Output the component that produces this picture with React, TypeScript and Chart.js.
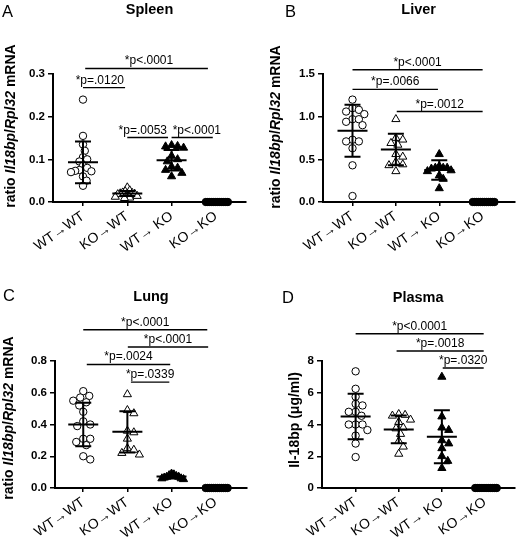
import React, { useEffect, useRef } from 'react';
import { Chart, registerables } from 'chart.js';

Chart.register(...registerables);

const FONT = '"Liberation Sans", Arial, Helvetica, sans-serif';

const CATEGORIES = ['WT\u2192WT', 'KO\u2192WT', 'WT\u2192 KO', 'KO\u2192KO'];

// ---------- Spleen ----------
const spleenWTWT = [0.24, 0.155, 0.135, 0.12, 0.105, 0.1, 0.095, 0.085, 0.08, 0.075, 0.073, 0.072, 0.07, 0.06, 0.05, 0.038];
const spleenKOWT = [0.034, 0.027, 0.025, 0.022, 0.021, 0.02, 0.019, 0.018, 0.016, 0.014, 0.012, 0.01, 0.009];
const spleenWTKO = [0.133, 0.131, 0.13, 0.127, 0.108, 0.1, 0.095, 0.083, 0.08, 0.075, 0.068, 0.06];
const spleenKOKO = [0, 0, 0, 0, 0, 0, 0, 0, 0, 0, 0, 0];
const spleenMean = [0.093, 0.02, 0.098, 0];
const spleenSD = [0.049, 0.006, 0.024, 0];
const spleenTicks = [0, 0.1, 0.2, 0.3];
const spleenTickLabels = ['0.0', '0.1', '0.2', '0.3'];
const spleenPLabels = ['*p<.0001', '*p=.0120', '*p=.0053', '*p<.0001'];
const spleenPLevel = [0.313, 0.268, 0.151, 0.151];
const spleenPFrom = [0.05, 0, 1, 2];
const spleenPTo = [2.82, 0.95, 1.92, 2.93];
const spleenPTextX = [1.49, 0.38, 1.35, 2.57];

// ---------- Liver ----------
const liverWTWT = [1.2, 1.1, 1.08, 1.06, 1.03, 0.97, 0.97, 0.94, 0.9, 0.73, 0.71, 0.71, 0.63, 0.43, 0.07];
const liverKOWT = [0.97, 0.75, 0.73, 0.69, 0.67, 0.56, 0.53, 0.47, 0.44, 0.43, 0.36];
const liverWTKO = [0.56, 0.42, 0.4, 0.4, 0.4, 0.39, 0.37, 0.36, 0.31, 0.27, 0.16];
const liverKOKO = [0, 0, 0, 0, 0, 0, 0, 0, 0, 0, 0, 0];
const liverMean = [0.835, 0.615, 0.375, 0];
const liverSD = [0.305, 0.185, 0.115, 0];
const liverTicks = [0, 0.5, 1, 1.5];
const liverTickLabels = ['0.0', '0.5', '1.0', '1.5'];
const liverPLabels = ['*p<.0001', '*p=.0066', '*p=.0012'];
const liverPLevel = [1.55, 1.32, 1.06];
const liverPFrom = [0, 0, 1.02];
const liverPTo = [3, 1.97, 3];

// ---------- Lung ----------
const lungWTWT = [0.61, 0.58, 0.57, 0.55, 0.54, 0.52, 0.48, 0.42, 0.4, 0.39, 0.31, 0.31, 0.29, 0.27, 0.2, 0.18];
const lungKOWT = [0.59, 0.49, 0.47, 0.36, 0.35, 0.31, 0.25, 0.24, 0.22, 0.21];
const lungWTKO = [0.09, 0.085, 0.08, 0.075, 0.07, 0.07, 0.065, 0.06, 0.06, 0.055];
const lungKOKO = [0, 0, 0, 0, 0, 0, 0, 0, 0, 0, 0, 0];
const lungMean = [0.4, 0.354, 0.072, 0];
const lungSD = [0.137, 0.13, 0.012, 0];
const lungTicks = [0, 0.2, 0.4, 0.6, 0.8];
const lungTickLabels = ['0.0', '0.2', '0.4', '0.6', '0.8'];
const lungPLabels = ['*p<.0001', '*p<.0001', '*p=.0024', '*p=.0339'];
const lungPLevel = [0.997, 0.888, 0.778, 0.667];
const lungPFrom = [0, 1.01, 0.08, 1.08];
const lungPTo = [2.81, 2.83, 1.97, 1.95];

// ---------- Plasma ----------
const plasmaWTWT = [7.35, 6.25, 5.75, 5.3, 5.2, 4.8, 4.8, 4.55, 4.0, 4.0, 4.0, 3.65, 3.3, 2.8, 1.95];
const plasmaKOWT = [4.65, 4.6, 4.55, 4.3, 4.15, 3.8, 3.75, 3.4, 2.95, 2.6, 2.15];
const plasmaWTKO = [7.0, 4.5, 3.8, 3.65, 3.0, 2.8, 2.5, 2.0, 1.7, 1.25];
const plasmaKOKO = [0, 0, 0, 0, 0, 0, 0, 0, 0, 0, 0, 0];
const plasmaMean = [4.5, 3.69, 3.23, 0];
const plasmaSD = [1.43, 0.87, 1.67, 0];
const plasmaTicks = [0, 2, 4, 6, 8];
const plasmaTickLabels = ['0', '2', '4', '6', '8'];
const plasmaPLabels = ['*p<0.0001', '*p=.0018', '*p=.0320'];
const plasmaPLevel = [9.72, 8.63, 7.56];
const plasmaPFrom = [0, 0.95, 2.02];
const plasmaPTo = [2.97, 2.97, 2.97];

const MRNA_TITLE: [string, boolean][] = [
  ['ratio ', false],
  ['Il18bp', true],
  ['/', false],
  ['Rpl32', true],
  [' mRNA', false],
];
const PLASMA_TITLE: [string, boolean][] = [['Il-18bp (\u03bcg/ml)', false]];

// marker style per group: WT→WT open circle, KO→WT open triangle, WT→KO filled triangle, KO→KO filled circle
const MARKERS = [
  { style: 'circle', radius: 3.7, fill: '#ffffff' },
  { style: 'triangle', radius: 4.7, fill: '#ffffff' },
  { style: 'triangle', radius: 4.7, fill: '#000000' },
  { style: 'circle', radius: 3.7, fill: '#000000' },
];

type Panel = {
  letter: string;
  title: string;
  groups: number[][];
  mean: number[];
  sd: number[];
  ticks: number[];
  tickLabels: string[];
  yMax: number;
  pLabels: string[];
  pLevel: number[];
  pFrom: number[];
  pTo: number[];
  pTextX?: number[];
  yTitle: [string, boolean][];
  L: {
    left: number; top: number; h: number;
    axisLeft: number; axisRight: number; axisTop: number; axisBottom: number;
    xMin: number; xMax: number;
    letterX: number; letterY: number; titleY: number; yTitleX: number; yTitleY: number;
  };
};

const PANELS: Panel[] = [
  {
    letter: 'A', title: 'Spleen',
    groups: [spleenWTWT, spleenKOWT, spleenWTKO, spleenKOKO],
    mean: spleenMean, sd: spleenSD, ticks: spleenTicks, tickLabels: spleenTickLabels, yMax: 0.3,
    pLabels: spleenPLabels, pLevel: spleenPLevel, pFrom: spleenPFrom, pTo: spleenPTo, pTextX: spleenPTextX,
    yTitle: MRNA_TITLE,
    L: { left: 0, top: 0, h: 270, axisLeft: 53, axisRight: 246, axisTop: 74, axisBottom: 202, xMin: -0.677, xMax: 3.68,
      letterX: 2, letterY: 16.7, titleY: 13.5, yTitleX: 11, yTitleY: 126 },
  },
  {
    letter: 'B', title: 'Liver',
    groups: [liverWTWT, liverKOWT, liverWTKO, liverKOKO],
    mean: liverMean, sd: liverSD, ticks: liverTicks, tickLabels: liverTickLabels, yMax: 1.5,
    pLabels: liverPLabels, pLevel: liverPLevel, pFrom: liverPFrom, pTo: liverPTo,
    yTitle: MRNA_TITLE,
    L: { left: 260, top: 0, h: 270, axisLeft: 63, axisRight: 257, axisTop: 74, axisBottom: 202, xMin: -0.68, xMax: 3.73,
      letterX: 25, letterY: 16.7, titleY: 13.5, yTitleX: 16, yTitleY: 127 },
  },
  {
    letter: 'C', title: 'Lung',
    groups: [lungWTWT, lungKOWT, lungWTKO, lungKOKO],
    mean: lungMean, sd: lungSD, ticks: lungTicks, tickLabels: lungTickLabels, yMax: 0.8,
    pLabels: lungPLabels, pLevel: lungPLevel, pFrom: lungPFrom, pTo: lungPTo,
    yTitle: MRNA_TITLE,
    L: { left: 0, top: 270, h: 271, axisLeft: 55, axisRight: 247, axisTop: 91, axisBottom: 218, xMin: -0.64, xMax: 3.71,
      letterX: 3, letterY: 30.5, titleY: 30.5, yTitleX: 9, yTitleY: 148 },
  },
  {
    letter: 'D', title: 'Plasma',
    groups: [plasmaWTWT, plasmaKOWT, plasmaWTKO, plasmaKOKO],
    mean: plasmaMean, sd: plasmaSD, ticks: plasmaTicks, tickLabels: plasmaTickLabels, yMax: 8,
    pLabels: plasmaPLabels, pLevel: plasmaPLevel, pFrom: plasmaPFrom, pTo: plasmaPTo,
    yTitle: PLASMA_TITLE,
    L: { left: 260, top: 270, h: 271, axisLeft: 62, axisRight: 258, axisTop: 91, axisBottom: 218, xMin: -0.78, xMax: 3.68,
      letterX: 22, letterY: 33.3, titleY: 31.7, yTitleX: 35, yTitleY: 150 },
  },
];

// Beeswarm-style horizontal spread (in pixels) computed from the values
function swarmOffsets(values: number[], pxPerY: number, diameter: number, maxHalf: number): number[] {
  const order = values.map((_, i) => i).sort((a, b) => values[b] - values[a]);
  const placed: { x: number; y: number }[] = [];
  const off = new Array(values.length).fill(0);
  for (const i of order) {
    const y = values[i] * pxPerY;
    let chosen = 0;
    for (let k = 0; k < 400; k++) {
      const cand = k === 0 ? 0 : (k % 2 ? 1 : -1) * Math.ceil(k / 2);
      if (placed.every((p) => Math.hypot(p.x - cand, p.y - y) >= diameter)) {
        chosen = cand;
        break;
      }
    }
    placed.push({ x: chosen, y });
    off[i] = chosen;
  }
  const m = Math.max(...off.map((o) => Math.abs(o)), 0);
  const s = m > maxHalf ? maxHalf / m : 1;
  return off.map((o) => o * s);
}

function makeConfig(p: Panel): any {
  const L = p.L;
  const plotH = L.axisBottom - L.axisTop;
  const plotW = L.axisRight - L.axisLeft;
  const pxPerY = plotH / p.yMax;
  const pxPerX = plotW / (L.xMax - L.xMin);

  const datasets = p.groups.map((vals, g) => {
    const offs = swarmOffsets(vals, pxPerY, 7, 12);
    const m = MARKERS[g];
    return {
      data: vals.map((v, i) => ({ x: g + offs[i] / pxPerX, y: v })),
      pointStyle: m.style,
      pointRadius: m.radius,
      pointHoverRadius: m.radius,
      backgroundColor: m.fill,
      borderColor: '#000000',
      pointBorderWidth: 1,
      borderWidth: 1,
      showLine: false,
      clip: false,
    };
  });

  const annot = {
    id: 'annot' + p.letter,
    afterDatasetsDraw(chart: any) {
      const { ctx } = chart;
      const xs = chart.scales.x;
      const ys = chart.scales.y;
      ctx.save();
      ctx.strokeStyle = '#000';
      ctx.lineWidth = 2;
      p.mean.forEach((m, i) => {
        if (!m) return;
        const cx = xs.getPixelForValue(i);
        const yt = ys.getPixelForValue(m + p.sd[i]);
        const yb = ys.getPixelForValue(m - p.sd[i]);
        const ym = ys.getPixelForValue(m);
        ctx.beginPath();
        ctx.moveTo(cx, yt);
        ctx.lineTo(cx, yb);
        ctx.moveTo(cx - 8, yt);
        ctx.lineTo(cx + 8, yt);
        ctx.moveTo(cx - 8, yb);
        ctx.lineTo(cx + 8, yb);
        ctx.moveTo(cx - 15, ym);
        ctx.lineTo(cx + 15, ym);
        ctx.stroke();
      });
      ctx.restore();
    },
    afterDraw(chart: any) {
      const { ctx, chartArea } = chart;
      const xs = chart.scales.x;
      const ys = chart.scales.y;
      ctx.save();
      ctx.fillStyle = '#000';
      ctx.strokeStyle = '#000';
      // significance brackets
      ctx.lineWidth = 1.4;
      ctx.font = `12px ${FONT}`;
      ctx.textAlign = 'center';
      ctx.textBaseline = 'alphabetic';
      p.pLabels.forEach((lab, i) => {
        const yy = ys.getPixelForValue(p.pLevel[i]);
        const x1 = xs.getPixelForValue(p.pFrom[i]);
        const x2 = xs.getPixelForValue(p.pTo[i]);
        ctx.beginPath();
        ctx.moveTo(x1, yy);
        ctx.lineTo(x2, yy);
        ctx.stroke();
        const tx = p.pTextX ? xs.getPixelForValue(p.pTextX[i]) : (x1 + x2) / 2;
        ctx.fillText(lab, tx, yy - 4);
      });
      // panel title
      ctx.font = `bold 14.5px ${FONT}`;
      ctx.fillText(p.title, (chartArea.left + chartArea.right) / 2, L.titleY);
      // panel letter
      ctx.textAlign = 'left';
      ctx.font = `16.5px ${FONT}`;
      ctx.fillText(p.letter, L.letterX, L.letterY);
      // y axis title (mixed italic)
      ctx.translate(L.yTitleX, L.yTitleY);
      ctx.rotate(-Math.PI / 2);
      ctx.textBaseline = 'middle';
      const fontFor = (it: boolean) => `${it ? 'italic ' : ''}bold 14px ${FONT}`;
      let total = 0;
      p.yTitle.forEach(([t, it]) => {
        ctx.font = fontFor(it);
        total += ctx.measureText(t).width;
      });
      let cx = -total / 2;
      p.yTitle.forEach(([t, it]) => {
        ctx.font = fontFor(it);
        ctx.fillText(t, cx, 0);
        cx += ctx.measureText(t).width;
      });
      ctx.restore();
    },
  };

  return {
    type: 'scatter',
    data: { datasets },
    options: {
      animation: false,
      responsive: false,
      events: [],
      layout: { padding: { left: 0, top: L.axisTop, right: 260 - L.axisRight, bottom: 0 } },
      plugins: { legend: { display: false }, tooltip: { enabled: false }, title: { display: false } },
      scales: {
        x: {
          type: 'linear',
          bounds: 'data',
          min: L.xMin,
          max: L.xMax,
          afterBuildTicks: (s: any) => {
            s.ticks = CATEGORIES.map((_, i) => ({ value: i }));
          },
          afterFit: (s: any) => {
            s.height = L.h - L.axisBottom;
          },
          ticks: {
            callback: (v: any) => CATEGORIES[Math.round(v)],
            minRotation: 35,
            maxRotation: 35,
            autoSkip: false,
            padding: 2,
            color: '#000',
            font: { family: FONT, size: 14 },
          },
          grid: { display: true, drawOnChartArea: false, drawTicks: true, tickLength: 4, color: '#000', lineWidth: 1.5 },
          border: { display: true, color: '#000', width: 2 },
        },
        y: {
          type: 'linear',
          bounds: 'data',
          min: 0,
          max: p.yMax,
          afterBuildTicks: (s: any) => {
            s.ticks = p.ticks.map((v) => ({ value: v }));
          },
          afterFit: (s: any) => {
            s.width = L.axisLeft;
          },
          ticks: {
            callback: (_v: any, i: number) => p.tickLabels[i],
            padding: 3,
            color: '#000',
            font: { family: FONT, size: 11.5, weight: 'bold' },
          },
          grid: { display: true, drawOnChartArea: false, drawTicks: true, tickLength: 5, color: '#000', lineWidth: 1.5 },
          border: { display: true, color: '#000', width: 2 },
        },
      },
    },
    plugins: [annot],
  };
}

function PanelChart({ panel }: { panel: Panel }) {
  const ref = useRef<HTMLCanvasElement>(null);
  useEffect(() => {
    if (!ref.current) return;
    const chart = new Chart(ref.current, makeConfig(panel));
    return () => chart.destroy();
  }, [panel]);
  const L = panel.L;
  return (
    <canvas
      ref={ref}
      width={260}
      height={L.h}
      style={{ position: 'absolute', left: L.left, top: L.top, width: 260, height: L.h, display: 'block' }}
    />
  );
}

export default function App() {
  return (
    <div style={{ position: 'absolute', left: 0, top: 0, width: 520, height: 541, background: '#fff', overflow: 'hidden' }}>
      {PANELS.map((p) => (
        <PanelChart key={p.letter} panel={p} />
      ))}
    </div>
  );
}
